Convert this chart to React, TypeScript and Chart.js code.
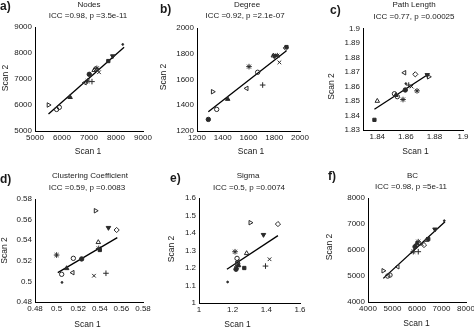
import React, { useEffect, useRef } from "react";
import { Chart, registerables } from "chart.js";
Chart.register(...registerables);

// ---------------- DATA ----------------
// marker code for each subject (same order in every panel)
const subjectMarkers = ["*", "o", ".", "^f", "<", "o", "h", "x", ">", "^", "s", "p", "+", "v", "d"];

const panelLetters = ["a)", "b)", "c)", "d)", "e)", "f)"];
const panelTitles = ["Nodes", "Degree", "Path Length", "Clustering Coefficient", "Sigma", "BC"];
const panelStats = [
  "ICC =0.98, p =3.5e-11",
  "ICC =0.92, p =2.1e-07",
  "ICC =0.77, p =0.00025",
  "ICC =0.59, p =0.0083",
  "ICC =0.5, p =0.0074",
  "ICC =0.98, p =5e-11",
];
const xAxisTitle = "Scan 1";
const yAxisTitle = "Scan 2";

// a) Nodes
const nodesScan1 = [6950, 5800, 8250, 6300, 6850, 5900, 7010, 7370, 5500, 7190, 7715, 7290, 7110, 7880, 7250];
const nodesScan2 = [6920, 5830, 8330, 6300, 6860, 5910, 7180, 7260, 6000, 7340, 7690, 7410, 6900, 7880, 7380];
const nodesFitX = [5500, 8300];
const nodesFitY = [5655, 8220];
const nodesXRange = [5000, 9000];
const nodesYRange = [5000, 9000];
const nodesXTicks = [5000, 6000, 7000, 8000, 9000];
const nodesYTicks = [5000, 6000, 7000, 8000, 9000];

// b) Degree
const degreeScan1 = [1604, 1353, 1810, 1438, 1586, 1671, 1288, 1840, 1322, 1793, 1895, 1824, 1710, 1800, 1890];
const degreeScan2 = [1700, 1368, 1790, 1448, 1531, 1656, 1290, 1733, 1505, 1785, 1852, 1785, 1557, 1782, 1845];
const degreeFitX = [1288, 1895];
const degreeFitY = [1350, 1824];
const degreeXRange = [1200, 2000];
const degreeYRange = [1200, 2000];
const degreeXTicks = [1200, 1400, 1600, 1800, 2000];
const degreeYTicks = [1200, 1400, 1600, 1800, 2000];

// c) Path Length
const pathScan1 = [1.858, 1.852, 1.86, 1.853, 1.859, 1.854, 1.8596, 1.864, 1.876, 1.84, 1.838, 1.8678, 1.862, 1.875, 1.8666];
const pathScan2 = [1.851, 1.855, 1.862, 1.854, 1.8695, 1.853, 1.8576, 1.86, 1.8667, 1.85, 1.837, 1.857, 1.861, 1.868, 1.8684];
const pathFitX = [1.838, 1.876];
const pathFitY = [1.8443, 1.8686];
const pathXRange = [1.83, 1.9];
const pathYRange = [1.83, 1.9];
const pathXTicks = [1.84, 1.86, 1.88, 1.9];
const pathYTicks = [1.83, 1.84, 1.85, 1.86, 1.87, 1.88, 1.89, 1.9];

// d) Clustering Coefficient
const clusterScan1 = [0.5, 0.5047, 0.505, 0.5093, 0.5149, 0.5155, 0.5232, 0.5346, 0.5361, 0.5386, 0.54, 0.539, 0.5457, 0.548, 0.5556];
const clusterScan2 = [0.5256, 0.5069, 0.499, 0.5127, 0.5085, 0.5224, 0.5218, 0.5055, 0.5686, 0.538, 0.5305, 0.532, 0.5079, 0.5521, 0.5499];
const clusterFitX = [0.5011, 0.5562];
const clusterFitY = [0.5085, 0.5425];
const clusterXRange = [0.48, 0.58];
const clusterYRange = [0.48, 0.58];
const clusterXTicks = [0.48, 0.5, 0.52, 0.54, 0.56, 0.58];
const clusterYTicks = [0.48, 0.5, 0.52, 0.54, 0.56, 0.58];

// e) Sigma
const sigmaScan1 = [1.214, 1.226, 1.17, 1.235, 1.23, 1.23, 1.22, 1.419, 1.305, 1.283, 1.269, 1.225, 1.395, 1.383, 1.469];
const sigmaScan2 = [1.293, 1.255, 1.12, 1.215, 1.235, 1.225, 1.193, 1.25, 1.459, 1.284, 1.2, 1.207, 1.211, 1.39, 1.451];
const sigmaFitX = [1.166, 1.469];
const sigmaFitY = [1.193, 1.385];
const sigmaXRange = [1, 1.6];
const sigmaYRange = [1, 1.6];
const sigmaXTicks = [1, 1.2, 1.4, 1.6];
const sigmaYTicks = [1, 1.1, 1.2, 1.3, 1.4, 1.5, 1.6];

// f) BC
const bcScan1 = [5848, 4898, 7113, 5990, 5212, 4804, 5920, 6190, 4624, 6395, 6460, 6050, 6052, 6734, 6285];
const bcScan2 = [5935, 5036, 7126, 6250, 5356, 4998, 6125, 6230, 5201, 6383, 6421, 6320, 5935, 6795, 6190];
const bcFitX = [4624, 7142];
const bcFitY = [4909, 7088];
const bcXRange = [4000, 8000];
const bcYRange = [4000, 8000];
const bcXTicks = [4000, 5000, 6000, 7000, 8000];
const bcYTicks = [4000, 5000, 6000, 7000, 8000];

const panelData = [
  { xs: nodesScan1, ys: nodesScan2, fx: nodesFitX, fy: nodesFitY, xr: nodesXRange, yr: nodesYRange, xt: nodesXTicks, yt: nodesYTicks },
  { xs: degreeScan1, ys: degreeScan2, fx: degreeFitX, fy: degreeFitY, xr: degreeXRange, yr: degreeYRange, xt: degreeXTicks, yt: degreeYTicks },
  { xs: pathScan1, ys: pathScan2, fx: pathFitX, fy: pathFitY, xr: pathXRange, yr: pathYRange, xt: pathXTicks, yt: pathYTicks },
  { xs: clusterScan1, ys: clusterScan2, fx: clusterFitX, fy: clusterFitY, xr: clusterXRange, yr: clusterYRange, xt: clusterXTicks, yt: clusterYTicks },
  { xs: sigmaScan1, ys: sigmaScan2, fx: sigmaFitX, fy: sigmaFitY, xr: sigmaXRange, yr: sigmaYRange, xt: sigmaXTicks, yt: sigmaYTicks },
  { xs: bcScan1, ys: bcScan2, fx: bcFitX, fy: bcFitY, xr: bcXRange, yr: bcYRange, xt: bcXTicks, yt: bcYTicks },
];

// ---------------- LAYOUT / STYLE ----------------
const PAGE_W = 474;
const PAGE_H = 328;
const CW = 520;
const CH = 345;
const Y_AXIS_W = 32;
const X_AXIS_H = 14;

// plot boxes (page pixels) and text anchor positions
const LAYOUT = [
  { L: 35, R: 143, T: 27, B: 131, letter: [0, 7], title: [89, 5], stats: [88, 16], xl: [88, 152], yl: [6, 78] },
  { L: 197, R: 300, T: 28, B: 131, letter: [160, 10], title: [247, 5], stats: [245, 16], xl: [251, 152], yl: [163.5, 77] },
  { L: 363, R: 463, T: 28.5, B: 130, letter: [330, 11], title: [414, 5], stats: [414, 16.5], xl: [415.5, 152], yl: [331.5, 86.5] },
  { L: 35, R: 143, T: 199, B: 302, letter: [0, 180], title: [90, 176], stats: [87, 187.5], xl: [87.5, 325], yl: [5, 250.5] },
  { L: 199, R: 300, T: 198, B: 303, letter: [170, 179], title: [248, 176], stats: [249, 188], xl: [237.5, 325], yl: [171.5, 249] },
  { L: 368, R: 466, T: 198, B: 302, letter: [328, 177], title: [412.5, 175.5], stats: [411, 187], xl: [416.5, 324], yl: [330, 247] },
];

const FONT = '"Liberation Sans", Arial, Helvetica, sans-serif';
const TEXT_COLOR = "#1a1a1a";
const MARK_COLOR = "#2a2a2a";

const MARKER_STYLE: Record<string, { style: string; r: number; fill: boolean; rot: number }> = {
  "*": { style: "star", r: 2.8, fill: false, rot: 0 },
  o: { style: "circle", r: 2.2, fill: false, rot: 0 },
  ".": { style: "circle", r: 0.9, fill: true, rot: 0 },
  "^f": { style: "triangle", r: 2.6, fill: true, rot: 0 },
  "<": { style: "triangle", r: 2.6, fill: false, rot: 270 },
  h: { style: "circle", r: 2.2, fill: true, rot: 0 },
  x: { style: "crossRot", r: 2.6, fill: false, rot: 0 },
  ">": { style: "triangle", r: 2.6, fill: false, rot: 90 },
  "^": { style: "triangle", r: 2.6, fill: false, rot: 0 },
  s: { style: "rect", r: 2.3, fill: true, rot: 0 },
  p: { style: "star", r: 2.8, fill: false, rot: 0 },
  "+": { style: "cross", r: 2.8, fill: false, rot: 0 },
  v: { style: "triangle", r: 2.6, fill: true, rot: 180 },
  d: { style: "rectRot", r: 2.6, fill: false, rot: 0 },
};

const fmt = (v: number) => String(Number(v.toFixed(4)));

function makeTextPlugin(i: number) {
  const lay = LAYOUT[i];
  return {
    id: "panelText" + i,
    afterDraw(chart: any) {
      const ctx = chart.ctx;
      ctx.save();
      ctx.fillStyle = TEXT_COLOR;
      ctx.textBaseline = "middle";
      ctx.textAlign = "left";
      ctx.font = `bold 12px ${FONT}`;
      ctx.fillText(panelLetters[i], lay.letter[0], lay.letter[1]);
      ctx.textAlign = "center";
      ctx.font = `8px ${FONT}`;
      ctx.fillText(panelTitles[i], lay.title[0], lay.title[1]);
      ctx.fillText(panelStats[i], lay.stats[0], lay.stats[1]);
      ctx.font = `8.5px ${FONT}`;
      ctx.fillText(xAxisTitle, lay.xl[0], lay.xl[1]);
      ctx.translate(lay.yl[0], lay.yl[1]);
      ctx.rotate(-Math.PI / 2);
      ctx.fillText(yAxisTitle, 0, 0);
      ctx.restore();
    },
  };
}

function axisConfig(range: number[], ticks: number[], isX: boolean) {
  return {
    type: "linear",
    position: isX ? "bottom" : "left",
    min: range[0],
    max: range[1],
    afterBuildTicks: (s: any) => {
      s.ticks = ticks.map((v) => ({ value: v }));
    },
    afterFit: (s: any) => {
      if (isX) s.height = X_AXIS_H;
      else s.width = Y_AXIS_W;
    },
    grid: { display: true, drawOnChartArea: false, drawTicks: false },
    border: { display: true, color: "#000", width: 1 },
    ticks: {
      autoSkip: false,
      maxRotation: 0,
      minRotation: 0,
      padding: isX ? 2 : 3,
      color: TEXT_COLOR,
      font: { family: FONT, size: 8 },
      callback: (v: any) => fmt(Number(v)),
    },
  };
}

function Panel({ index }: { index: number }) {
  const ref = useRef<HTMLCanvasElement | null>(null);
  useEffect(() => {
    const d = panelData[index];
    const lay = LAYOUT[index];
    const styles = subjectMarkers.map((m) => MARKER_STYLE[m]);
    const chart = new Chart(ref.current as HTMLCanvasElement, {
      type: "scatter",
      data: {
        datasets: [
          {
            data: d.xs.map((x, k) => ({ x, y: d.ys[k] })),
            pointStyle: styles.map((s) => s.style) as any,
            pointRadius: styles.map((s) => s.r),
            pointRotation: styles.map((s) => s.rot),
            pointBackgroundColor: styles.map((s) => (s.fill ? MARK_COLOR : "rgba(0,0,0,0)")),
            pointBorderColor: MARK_COLOR,
            pointBorderWidth: 1,
            showLine: false,
          } as any,
          {
            data: d.fx.map((x, k) => ({ x, y: d.fy[k] })),
            showLine: true,
            borderColor: "#000",
            borderWidth: 1.3,
            pointRadius: 0,
            fill: false,
          } as any,
        ],
      },
      options: {
        responsive: false,
        animation: false,
        devicePixelRatio: 1,
        events: [],
        layout: {
          padding: {
            left: lay.L - Y_AXIS_W,
            right: CW - lay.R,
            top: lay.T,
            bottom: CH - lay.B - X_AXIS_H,
          },
        },
        plugins: { legend: { display: false }, tooltip: { enabled: false }, title: { display: false } },
        scales: {
          x: axisConfig(d.xr, d.xt, true) as any,
          y: axisConfig(d.yr, d.yt, false) as any,
        },
      },
      plugins: [makeTextPlugin(index)],
    });
    return () => chart.destroy();
  }, [index]);
  return (
    <canvas
      ref={ref}
      width={CW}
      height={CH}
      style={{ position: "absolute", left: 0, top: 0, width: CW, height: CH }}
    />
  );
}

export default function App() {
  return (
    <div
      style={{
        position: "fixed",
        left: 0,
        top: 0,
        width: PAGE_W,
        height: PAGE_H,
        overflow: "hidden",
        background: "#fff",
      }}
    >
      {[0, 1, 2, 3, 4, 5].map((i) => (
        <Panel key={i} index={i} />
      ))}
    </div>
  );
}
